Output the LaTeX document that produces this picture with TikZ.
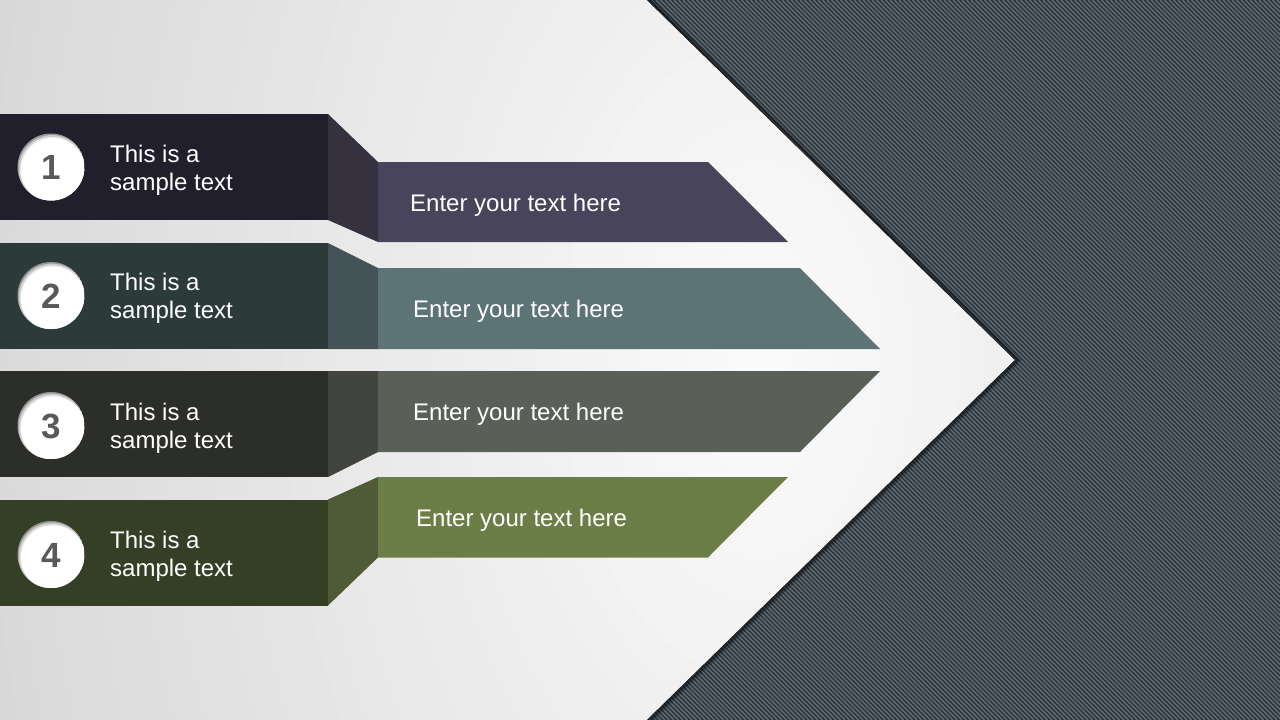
\documentclass[tikz,border=0pt]{standalone}
\usepackage{fontspec}
\setmainfont{Liberation Sans}
\definecolor{cAL}{HTML}{221F2D}\definecolor{cAF}{HTML}{35313F}\definecolor{cAR}{HTML}{48445C}
\definecolor{cBL}{HTML}{2C3A3A}\definecolor{cBF}{HTML}{445356}\definecolor{cBR}{HTML}{5D7476}
\definecolor{cCL}{HTML}{2C2E2A}\definecolor{cCF}{HTML}{41443F}\definecolor{cCR}{HTML}{5A5F57}
\definecolor{cDL}{HTML}{353F25}\definecolor{cDF}{HTML}{4F5B36}\definecolor{cDR}{HTML}{6A7E46}
\definecolor{patbase}{HTML}{2A3238}
\definecolor{patlight}{HTML}{5C6870}
\definecolor{numgray}{HTML}{595959}
\begin{document}
\begin{tikzpicture}[x=1pt,y=-1pt,
  smalltxt/.style={anchor=base west,inner sep=0pt,text=white,font=\fontsize{24}{28}\selectfont},
  numtxt/.style={inner sep=0pt,text=numgray,font=\fontsize{35}{40}\selectfont\bfseries},
  patline/.style={draw=patlight,line width=1.5pt}]
\useasboundingbox (0,0) rectangle (1280,720);
% background gradient
\begin{scope}
\clip (0,0) rectangle (1280,720);
\fill[black!16!white] (0,0) rectangle (1280,720);
\foreach \i in {36,35,...,1}{
  \pgfmathsetmacro\r{\i*25}
  \pgfmathsetmacro\ry{\r*1.6}
  \pgfmathsetmacro\p{1.5+\r*0.017}
  \fill[black!\p!white] (760,360) ellipse[x radius=\r pt, y radius=\ry pt];
}
\end{scope}
% dark striped region
\begin{scope}
\clip (647,0) -- (1280,0) -- (1280,720) -- (647,720) -- (1015,360) -- cycle;
\fill[patbase] (600,0) rectangle (1280,720);
\foreach \k in {-100,-95.5,...,1290} \draw[patline] (\k,0) -- ++(720,720);
\draw[black,opacity=0.35,line width=6pt] (647,0) -- (1015,360) -- (647,720);
\draw[black,opacity=0.25,line width=10pt] (647,0) -- (1015,360) -- (647,720);
\end{scope}
% bar 1
\fill[cAL] (0,114) rectangle (328,220);
\fill[cAF] (328,114) -- (378,162) -- (378,242) -- (328,220) -- cycle;
\fill[cAR] (378,162) -- (708,162) -- (788,242) -- (378,242) -- cycle;
% bar 2
\fill[cBL] (0,243) rectangle (328,349);
\fill[cBF] (328,243) -- (378,268) -- (378,349) -- (328,349) -- cycle;
\fill[cBR] (378,268) -- (800,268) -- (880,349) -- (378,349) -- cycle;
% bar 3
\fill[cCL] (0,371) rectangle (328,477);
\fill[cCF] (328,371) -- (378,371) -- (378,452) -- (328,477) -- cycle;
\fill[cCR] (378,371) -- (880,371) -- (800,452) -- (378,452) -- cycle;
% bar 4
\fill[cDL] (0,499.5) rectangle (328,605.5);
\fill[cDF] (328,499.5) -- (378,477) -- (378,557.5) -- (328,605.5) -- cycle;
\fill[cDR] (378,477) -- (788,477) -- (708,557.5) -- (378,557.5) -- cycle;
% circles with inset shadow and numbers
\foreach \n/\y in {1/167,2/295.5,3/425.5,4/554.5}{
  \begin{scope}
  \clip (51,\y) circle[radius=33.5pt];
  \fill[black!42!white] (51,\y) circle[radius=33.5pt];
  \fill[white,opacity=0.5] ({51+1},{\y+1.5}) circle[radius=33.5pt];
  \fill[white,opacity=0.6] ({51+1.5},{\y+2.3}) circle[radius=32.5pt];
  \fill[white] ({51+2},{\y+3}) circle[radius=32pt];
  \end{scope}
  \node[numtxt] (num\n) at (51,{\y+0.5}) {\n};
}
% left labels
\foreach \n/\ya/\yb in {1/162/190.5,2/290/318.5,3/420/448.5,4/548/576.5}{
  \node[smalltxt] (la\n) at (110,\ya) {This is a};
  \node[smalltxt] (lb\n) at (110,\yb) {sample text};
}
% right labels
\foreach \n/\x/\y in {1/410/211.5,2/413/317.5,3/413/420,4/416/526}{
  \node[smalltxt] (ent\n) at (\x,\y) {Enter your text here};
}
\end{tikzpicture}
\end{document}
